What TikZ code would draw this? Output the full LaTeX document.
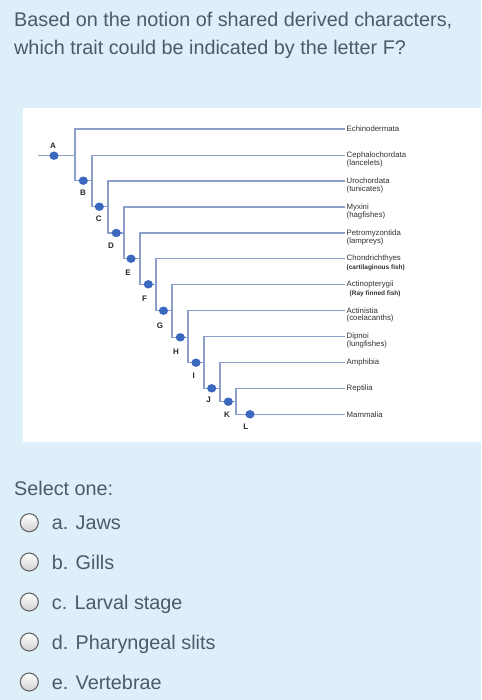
\documentclass[tikz,border=0pt]{standalone}
\usepackage{fontspec}
\setmainfont{Liberation Sans}
\usetikzlibrary{shapes.geometric}
\definecolor{bgblue}{RGB}{221,240,249}
\definecolor{brcol}{RGB}{140,158,202}
\definecolor{dotcol}{RGB}{58,104,190}
\definecolor{qtext}{RGB}{74,92,104}
\definecolor{taxtext}{RGB}{50,50,50}
\begin{document}
\begin{tikzpicture}[x=1pt,y=-1pt,
  br/.style={draw=brcol,line width=1.3pt,line join=miter},
  dot/.style={ellipse,fill=dotcol,inner sep=0pt,minimum width=9.2pt,minimum height=8.4pt},
  taxon/.style={anchor=west,inner sep=1.5pt,text=taxtext,font=\fontsize{7.8}{8}\selectfont},
  taxsub/.style={anchor=west,inner sep=1.5pt,text=taxtext,font=\fontsize{7.8}{8}\selectfont},
  taxbold/.style={anchor=west,inner sep=1.5pt,text=taxtext,font=\fontsize{6.5}{7}\selectfont\bfseries},
  letter/.style={inner sep=0pt,text=black!85,font=\fontsize{8}{8}\selectfont\bfseries},
  qline/.style={anchor=base west,inner sep=0pt,text=qtext,font=\fontsize{19.8}{22}\selectfont},
  radio/.style={circle,draw=black!60,line width=1.1pt,top color=white,bottom color=black!18,inner sep=0pt,minimum size=18pt}
]
\useasboundingbox (0,0) rectangle (481,700);
\fill[bgblue] (0,0) rectangle (481,700);
\fill[white] (23.3,108.3) rectangle (481,442);

% question
\node[qline] (q1) at (14,27) {Based on the notion of shared derived characters,};
\node[qline] (q2) at (14,55) {which trait could be indicated by the letter F?};

% taxa
\node[taxon] (t1) at (345,129) {Echinodermata};
\node[taxon] (t2) at (345,155.3) {Cephalochordata};
\node[taxsub] (t2s) at (345,163.4) {(lancelets)};
\node[taxon] (t3) at (345,181) {Urochordata};
\node[taxsub] (t3s) at (345,189.1) {(tunicates)};
\node[taxon] (t4) at (345,207) {Myxini};
\node[taxsub] (t4s) at (345,215.1) {(hagfishes)};
\node[taxon] (t5) at (345,233) {Petromyzontida};
\node[taxsub] (t5s) at (345,241.1) {(lampreys)};
\node[taxon] (t6) at (345,258.7) {Chondrichthyes};
\node[taxbold] (t6s) at (345,267.8) {(cartilaginous fish)};
\node[taxon] (t7) at (345,284.3) {Actinopterygii};
\node[taxbold] (t7s) at (348,293.4) {(Ray finned fish)};
\node[taxon] (t8) at (345,310.5) {Actinistia};
\node[taxsub] (t8s) at (345,318.6) {(coelacanths)};
\node[taxon] (t9) at (345,336.5) {Dipnoi};
\node[taxsub] (t9s) at (345,344.6) {(lungfishes)};
\node[taxon] (t10) at (345,362.5) {Amphibia};
\node[taxon] (t11) at (345,388.3) {Reptilia};
\node[taxon] (t12) at (345,414.3) {Mammalia};

% junction coordinates
\coordinate (r0) at (38,155.7);
\coordinate (Ar) at (75,155.7);
\coordinate (Bl) at (75,180.7);   \coordinate (Br) at (92,180.7);
\coordinate (Cl) at (92,206.7);   \coordinate (Cr) at (108,206.7);
\coordinate (Dl) at (108,233);    \coordinate (Dr) at (124,233);
\coordinate (El) at (124,258.7);  \coordinate (Er) at (140,258.7);
\coordinate (Fl) at (140,284.3);  \coordinate (Fr) at (156,284.3);
\coordinate (Gl) at (156,310.7);  \coordinate (Gr) at (172,310.7);
\coordinate (Hl) at (172,337.3);  \coordinate (Hr) at (188,337.3);
\coordinate (Il) at (188,362.7);  \coordinate (Ir) at (204,362.7);
\coordinate (Jl) at (204,388.3);  \coordinate (Jr) at (220,388.3);
\coordinate (Kl) at (220,401.7);  \coordinate (Kr) at (236,401.7);
\coordinate (Ll) at (236,414.3);

% branches
\draw[br] (r0) -- (Ar);
\draw[br] (t1.west) -| (Bl) -- (Br);
\draw[br] (t2.west) -| (Cl) -- (Cr);
\draw[br] (t3.west) -| (Dl) -- (Dr);
\draw[br] (t4.west) -| (El) -- (Er);
\draw[br] (t5.west) -| (Fl) -- (Fr);
\draw[br] (t6.west) -| (Gl) -- (Gr);
\draw[br] (t7.west) -| (Hl) -- (Hr);
\draw[br] (t8.west) -| (Il) -- (Ir);
\draw[br] (t9.west) -| (Jl) -- (Jr);
\draw[br] (t10.west) -| (Kl) -- (Kr);
\draw[br] (t11.west) -| (Ll) -- (t12.west);

% dots
\node[dot] (A) at (54,155.7) {};
\node[dot] (B) at (83.3,180.7) {};
\node[dot] (C) at (99.3,206.7) {};
\node[dot] (D) at (116.3,233) {};
\node[dot] (E) at (131,258.7) {};
\node[dot] (F) at (148.3,284.3) {};
\node[dot] (G) at (163.5,310.7) {};
\node[dot] (H) at (180.3,337.3) {};
\node[dot] (I) at (196,362.7) {};
\node[dot] (J) at (211.7,388.3) {};
\node[dot] (K) at (228.3,401.7) {};
\node[dot] (L) at (250,414.3) {};

% letters
\node[letter] (lA) at (53,146) {A};
\node[letter] (lB) at (83,193) {B};
\node[letter] (lC) at (98.7,219) {C};
\node[letter] (lD) at (111,245.7) {D};
\node[letter] (lE) at (128,272.5) {E};
\node[letter] (lF) at (144.5,298.5) {F};
\node[letter] (lG) at (160,325.5) {G};
\node[letter] (lH) at (176,351.5) {H};
\node[letter] (lI) at (193.7,376) {I};
\node[letter] (lJ) at (208.7,400) {J};
\node[letter] (lK) at (227,414.7) {K};
\node[letter] (lL) at (245.7,427) {L};

% answers
\node[qline] (sel) at (14,495) {Select one:};
\node[radio] (ra) at (29.3,522.7) {};
\node[radio] (rb) at (29.3,562) {};
\node[radio] (rc) at (29.3,602) {};
\node[radio] (rd) at (29.3,642) {};
\node[radio] (re) at (29.3,682) {};
\node[qline] (oa) at (51.7,529.5) {a. Jaws};
\node[qline] (ob) at (51.7,569) {b. Gills};
\node[qline] (oc) at (51.7,609) {c. Larval stage};
\node[qline] (od) at (51.7,649) {d. Pharyngeal slits};
\node[qline] (oe) at (51.7,689) {e. Vertebrae};
\end{tikzpicture}
\end{document}
